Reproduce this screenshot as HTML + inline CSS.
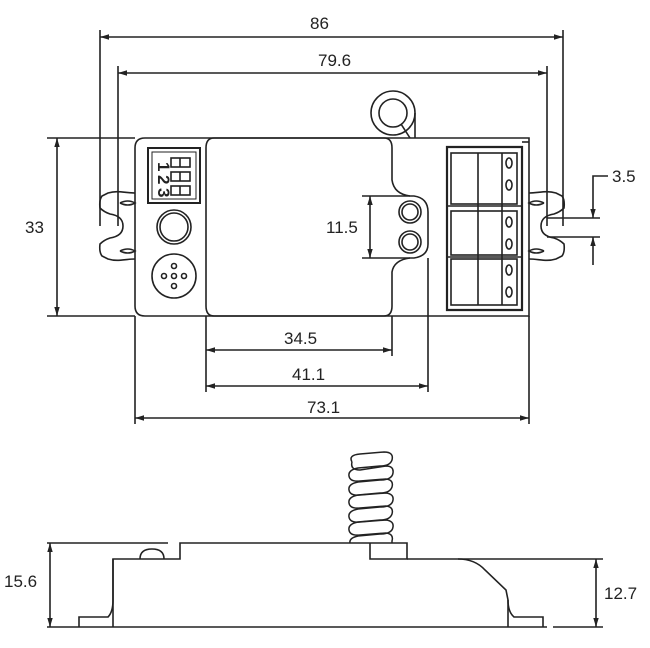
<!DOCTYPE html>
<html><head><meta charset="utf-8"><style>
html,body{margin:0;padding:0;background:#fff}
svg{display:block}
text{font-family:"Liberation Sans","DejaVu Sans",sans-serif;font-size:17px;fill:#222}
</style></head><body>
<svg width="650" height="648" viewBox="0 0 650 648" xmlns="http://www.w3.org/2000/svg">
<defs>
<marker id="a" viewBox="0 0 10 10" refX="10" refY="5" markerWidth="9" markerHeight="9" orient="auto-start-reverse" markerUnits="userSpaceOnUse"><path d="M0,2 L10,5 L0,8 Z" fill="#222"/></marker>
</defs>
<g fill="none" stroke="#222" stroke-width="1.6">
<line x1="100" y1="37" x2="563" y2="37" marker-start="url(#a)" marker-end="url(#a)"/>
<line x1="100" y1="30" x2="100" y2="226"/><line x1="563" y1="30" x2="563" y2="226"/>
<line x1="118" y1="73" x2="547" y2="73" marker-start="url(#a)" marker-end="url(#a)"/>
<line x1="118" y1="66" x2="118" y2="226"/><line x1="547" y1="66" x2="547" y2="226"/>
<line x1="47" y1="138" x2="135" y2="138"/><line x1="47" y1="316" x2="135" y2="316"/>
<line x1="57" y1="138" x2="57" y2="316" marker-start="url(#a)" marker-end="url(#a)"/>
<path d="M135,193 C125,193 118,190 108,193 L102,196 Q99,200 100,208 Q104,212 110,214 Q123,216 123,226 Q123,236 110,238 Q104,240 100,244 Q99,252 102,256 L108,259 C118,262 125,259 135,259"/>
<path d="M529,193 C539,193 546,190 556,193 L562,196 Q565,200 564,208 Q560,212 554,214 Q541,216 541,226 Q541,236 554,238 Q560,240 564,244 Q565,252 562,256 L556,259 C546,262 539,259 529,259"/>
<path d="M120,203 Q128,199 135,203 Q128,207 120,203"/><path d="M120,251 Q128,247 135,251 Q128,255 120,251"/>
<path d="M544,203 Q536,199 529,203 Q536,207 544,203"/><path d="M544,251 Q536,247 529,251 Q536,255 544,251"/>
<path d="M145,138 L529,138 L529,316 L145,316 Q135,316 135,306 L135,148 Q135,138 145,138 Z"/>
<path d="M214,138 L384,138 Q392,138 392,148 L392,180 Q394,194 410,196 L414,196 Q428,198 428,212 L428,244 Q428,256 414,258 L410,258 Q394,260 392,272 L392,306 Q392,316 384,316 L214,316 Q206,316 206,306 L206,148 Q206,138 214,138 Z"/>
<line x1="206" y1="316" x2="206" y2="392"/><line x1="392" y1="316" x2="392" y2="356"/><line x1="428" y1="258" x2="428" y2="392"/>
<line x1="135" y1="316" x2="135" y2="424"/><line x1="529" y1="316" x2="529" y2="424"/>
<circle cx="393" cy="113" r="22"/><circle cx="393" cy="113" r="14"/>
<line x1="415" y1="113" x2="415" y2="138"/><line x1="401" y1="124" x2="410" y2="138"/>
<circle cx="410" cy="212" r="11"/><circle cx="410" cy="212" r="8"/>
<circle cx="410" cy="242" r="11"/><circle cx="410" cy="242" r="8"/>
<line x1="362" y1="196" x2="410" y2="196"/><line x1="362" y1="258" x2="410" y2="258"/>
<line x1="370" y1="196" x2="370" y2="258" marker-start="url(#a)" marker-end="url(#a)"/>
<rect x="148" y="148" width="52" height="55" stroke-width="2"/>
<rect x="152" y="152" width="44" height="47" stroke-width="1"/>
<rect x="171" y="158" width="19" height="9"/><line x1="180" y1="158" x2="180" y2="167"/>
<rect x="171" y="172" width="19" height="9"/><line x1="180" y1="172" x2="180" y2="181"/>
<rect x="171" y="186" width="19" height="9"/><line x1="180" y1="186" x2="180" y2="195"/>
<circle cx="174" cy="227" r="17"/><circle cx="174" cy="227" r="14"/>
<circle cx="174" cy="276" r="22"/>
<circle cx="174" cy="266" r="2.5"/><circle cx="174" cy="286" r="2.5"/><circle cx="164" cy="276" r="2.5"/><circle cx="184" cy="276" r="2.5"/><circle cx="174" cy="276" r="2.5"/>
<path d="M447,147 L522,147 L522,310 L447,310 Z" stroke-width="2.2"/>
<rect x="451" y="153" width="66" height="51"/><rect x="451" y="211" width="66" height="44"/><rect x="451" y="259" width="66" height="46"/>
<line x1="478" y1="153" x2="478" y2="305"/><line x1="502" y1="153" x2="502" y2="305"/>
<line x1="447" y1="206" x2="522" y2="206"/><line x1="447" y1="257" x2="522" y2="257"/>
<line x1="522" y1="142" x2="529" y2="142"/>
<ellipse cx="509" cy="163" rx="3" ry="5"/><ellipse cx="509" cy="185" rx="3" ry="5"/>
<ellipse cx="509" cy="222" rx="3" ry="5"/><ellipse cx="509" cy="244" rx="3" ry="5"/>
<ellipse cx="509" cy="270" rx="3" ry="5"/><ellipse cx="509" cy="292" rx="3" ry="5"/>
<line x1="547" y1="218" x2="600" y2="218"/><line x1="547" y1="237" x2="600" y2="237"/>
<polyline points="608,176 593,176 593,218" marker-end="url(#a)"/>
<line x1="593" y1="265" x2="593" y2="237" marker-end="url(#a)"/>
<line x1="206" y1="350" x2="392" y2="350" marker-start="url(#a)" marker-end="url(#a)"/>
<line x1="206" y1="386" x2="428" y2="386" marker-start="url(#a)" marker-end="url(#a)"/>
<line x1="135" y1="418" x2="529" y2="418" marker-start="url(#a)" marker-end="url(#a)"/>
<line x1="47" y1="543" x2="168" y2="543"/>
<line x1="47" y1="627" x2="547" y2="627"/>
<line x1="50" y1="543" x2="50" y2="627" marker-start="url(#a)" marker-end="url(#a)"/>
<path d="M79,627 L79,617 L108,617 Q113,612 113,600 L113,559 L180,559 L180,543 L407,543 L407,559 L370,559 L370,543"/>
<path d="M407,559 L603,559"/><line x1="553" y1="627" x2="603" y2="627"/>
<path d="M113,627 L113,559"/>
<path d="M458,559 Q475,559 485,570 L506,590 L508,600 Q508,612 514,617 L543,617 L543,627"/>
<line x1="508" y1="600" x2="508" y2="627"/>
<path d="M140,559 Q140,549 152,549 Q164,549 164,559"/>
<line x1="596" y1="559" x2="596" y2="627" marker-start="url(#a)" marker-end="url(#a)"/>
<g stroke-width="1.5">
<path d="M352,462 Q348,455 360,454 L384,452 Q394,452 392,460 Q390,466 380,466 L358,468 Q348,470 349,476 Q350,482 360,481 L386,479 Q394,480 392,487 Q390,493 380,493 L358,495 Q348,497 349,503 Q350,509 360,508 L386,506 Q394,507 392,514 Q390,520 380,520 L358,522 Q348,524 349,530 Q350,536 360,535 L386,533 Q394,534 392,541 L392,543"/>
<path d="M352,462 Q350,470 360,470 L386,466 Q394,466 393,473 Q392,480 380,480 L358,482 Q348,484 349,490 Q350,496 360,495 L386,493 Q394,494 393,500 Q392,507 380,507 L358,509 Q348,511 349,517 Q350,523 360,522 L386,520 Q394,521 393,527 Q392,534 380,534 L358,536 Q349,538 350,543"/>
</g>
</g>
<text x="310" y="29">86</text>
<text x="318" y="66">79.6</text>
<text x="25" y="233">33</text>
<text x="612" y="182">3.5</text>
<text x="326" y="233">11.5</text>
<text x="284" y="344">34.5</text>
<text x="292" y="380">41.1</text>
<text x="307" y="413">73.1</text>
<text x="4" y="587">15.6</text>
<text x="604" y="599">12.7</text>
<g style="font-size:7px;font-weight:bold">
<text x="0" y="0" transform="translate(158,162) rotate(90)">1</text>
<text x="0" y="0" transform="translate(158,175) rotate(90)">2</text>
<text x="0" y="0" transform="translate(158,188) rotate(90)">3</text>
</g>
</svg>
</body></html>
